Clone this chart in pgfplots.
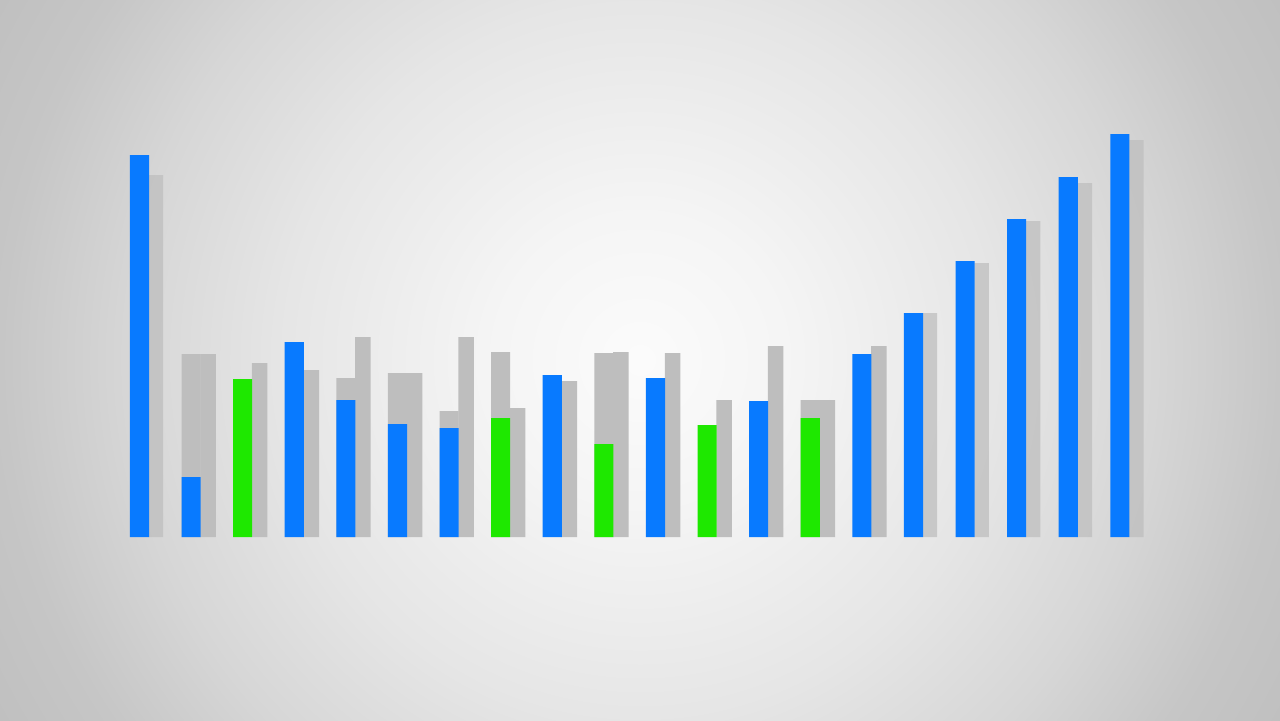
\documentclass[border=0pt]{standalone}
\usepackage{pgfplots}
\pgfplotsset{compat=1.18}
\definecolor{barblue}{RGB}{8,122,255}
\definecolor{bargreen}{RGB}{30,232,0}
\definecolor{shadowgrey}{RGB}{190,190,190}
\pgfdeclareradialshading{bgshade}{\pgfpoint{0bp}{0bp}}{%
  rgb(0bp)=(0.985,0.985,0.985);
  rgb(5bp)=(0.96,0.96,0.96);
  rgb(12.25bp)=(0.90,0.90,0.90);
  rgb(17.5bp)=(0.84,0.84,0.84);
  rgb(21.8bp)=(0.776,0.776,0.776);
  rgb(25bp)=(0.753,0.753,0.753);
  rgb(50bp)=(0.753,0.753,0.753)}
\begin{document}
\begin{tikzpicture}
\useasboundingbox (0,0) rectangle (640pt,360pt);
\begin{scope}
\clip (0,0) rectangle (640pt,360pt);
\shade[shading=bgshade] (-47pt,-187pt) rectangle (687pt,547pt);
\end{scope}
\begin{axis}[
  at={(0,0)}, anchor=south west,
  scale only axis, width=640pt, height=360pt,
  hide axis, enlargelimits=false,
  xmin=-2.703, xmax=22.103,
  ymin=-183, ymax=537,
]
% grey ghost bars behind the coloured bars
\addplot[ybar, bar width=0.37, bar shift=0, fill=shadowgrey, draw=none]
  coordinates {(1,183) (4,159) (5,164) (6,126) (7,185) (9,184) (13,137)};
% grey shadows to the right of each bar
\addplot[ybar, bar width=0.30, bar shift=0.33, fill=shadowgrey, draw=none]
  coordinates {(1,183) (2,174) (3,167) (4,200) (5,164) (6,200) (7,129) (8,156)
               (9,185) (10,184) (11,137) (12,191) (13,137) (14,191)};
\addplot[ybar, bar width=0.28, bar shift=0.32, fill=shadowgrey, draw=none, opacity=0.75]
  coordinates {(0,362) (15,224) (16,274) (17,316) (18,354) (19,397)};
% blue bars
\addplot[ybar, bar width=0.37, bar shift=0, fill=barblue, draw=none]
  coordinates {(0,382) (1,60) (3,195) (4,137) (5,113) (6,109) (8,162) (10,159)
               (12,136) (14,183) (15,224) (16,276) (17,318) (18,360) (19,403)};
% green bars
\addplot[ybar, bar width=0.37, bar shift=0, fill=bargreen, draw=none]
  coordinates {(2,158) (7,119) (9,93) (11,112) (13,119)};
\end{axis}
\end{tikzpicture}
\end{document}
